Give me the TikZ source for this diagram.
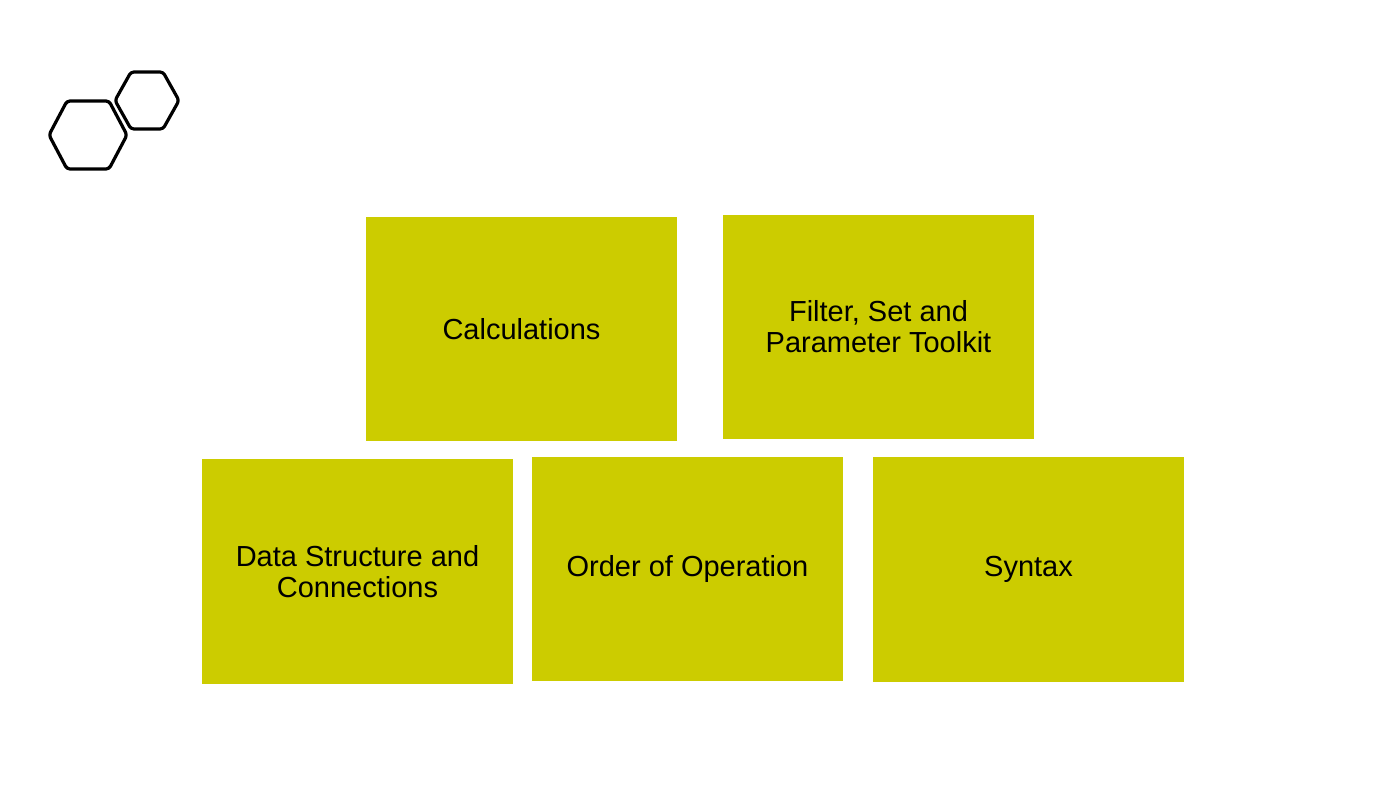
\documentclass[tikz,border=0pt]{standalone}
\usepackage{fontspec}
\setmainfont{Liberation Sans}
\definecolor{olive}{HTML}{CCCC00}
\begin{document}
\begin{tikzpicture}[x=1pt,y=-1pt,
  box/.style={fill=olive,draw=none,align=center,font=\fontsize{29}{31}\selectfont},
  hex/.style={draw=black,line width=3.2pt,line join=round,rounded corners=3pt}]
\useasboundingbox (0,0) rectangle (1383,787);
\path[box] (366,217) rectangle (677,441) node[midway] (calc) {Calculations};
\path[box] (723,215) rectangle (1034,439) node[midway] (filt) {Filter, Set and\\Parameter Toolkit};
\path[box] (202,459) rectangle (513,684) node[midway] (data) {Data Structure and\\Connections};
\path[box] (532,457) rectangle (843,681) node[midway] (order) {Order of Operation};
\path[box] (873,457) rectangle (1184,682) node[midway] (syn) {Syntax};
\draw[hex] (49,135) -- (67,101) -- (109,101) -- (127,135) -- (109,169) -- (67,169) -- cycle;
\draw[hex] (115,100.5) -- (131,72) -- (163,72) -- (179,100.5) -- (163,129) -- (131,129) -- cycle;
\end{tikzpicture}
\end{document}
